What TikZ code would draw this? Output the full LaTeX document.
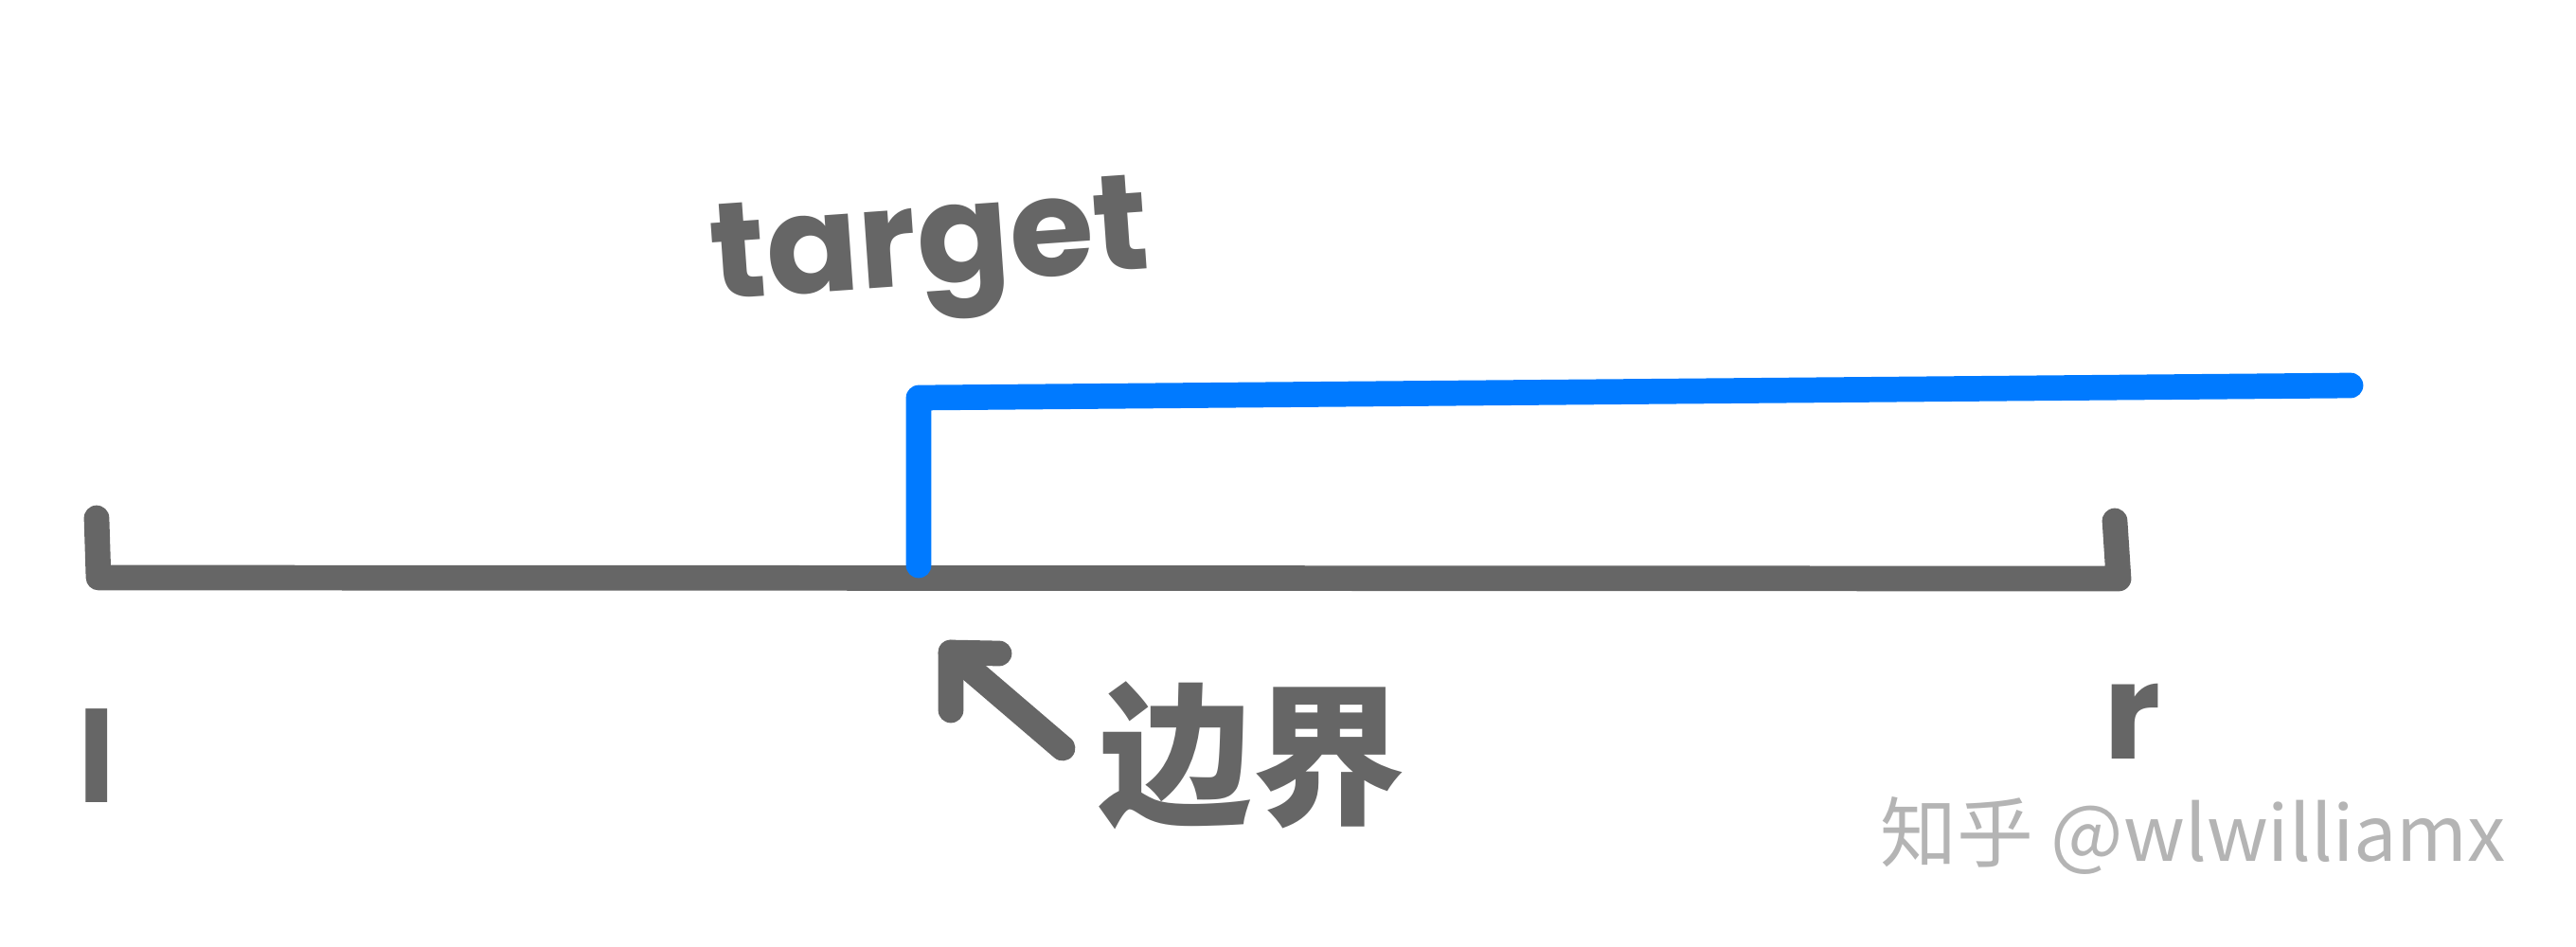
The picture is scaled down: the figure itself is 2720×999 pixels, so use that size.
\documentclass[tikz,border=0pt]{standalone}
\usepackage{fontspec}
\usepackage{tikz}
\usetikzlibrary{positioning}
\newfontfamily\handfont{Poppins}
\newfontfamily\cjkfont{Noto Sans CJK SC}
\definecolor{inkgray}{RGB}{102,102,102}
\definecolor{inkblue}{RGB}{0,122,255}
\definecolor{markgray}{RGB}{180,180,180}
\tikzset{
  pen/.style={line width=7.6pt,line cap=round,line join=round,draw=inkgray},
  bluepen/.style={pen,draw=inkblue},
  hand/.style={inner sep=0pt,text=inkgray,font=\handfont\bfseries},
}

\begin{document}
\begin{tikzpicture}[x=0.01cm,y=0.01cm,yscale=-1,xscale=1]
\useasboundingbox (0,0) rectangle (2720,999);

%Points of the range
\coordinate (lt) at (102,547);
\coordinate (lc) at (104,610);
\coordinate (rc) at (2237,611);
\coordinate (rt) at (2233,550);
%Points of the blue step
\coordinate (bb) at (970,597);
\coordinate (bc) at (970,420);
\coordinate (be) at (2482,407);
%Points of the arrow
\coordinate (atail) at (1122,790);
\coordinate (atip) at (1004,689);
\coordinate (ahl) at (1004,750);
\coordinate (ahr) at (1055,690);

%Straight Lines range
\draw [pen] (lt) -- (lc) -- (rc) -- (rt) ;
%Straight Lines blue step
\draw [bluepen] (bb) -- (bc) -- (be) ;
%Straight Lines arrow
\draw [pen] (atail) -- (atip) ;
\draw [pen] (ahl) -- (atip) -- (ahr) ;

% Text Node
\node [hand,rotate=4,anchor=base] (target) at (985,300) {\fontsize{41pt}{41pt}\selectfont target};
% Text Node
\node [hand] (l) at (102,798) {\fontsize{38pt}{38pt}\selectfont l};
% Text Node
\node [hand] (r) at (2252,762) {\fontsize{40pt}{40pt}\selectfont r};
% Text Node
\node [inner sep=0pt,text=inkgray,font=\cjkfont\bfseries] (bound) at (1322,798) {\fontsize{46pt}{46pt}\selectfont 边界};
% Text Node
\node [inner sep=0pt,text=markgray,font=\cjkfont,text height=15pt,text depth=4pt] (mark) at (2316,890) {\fontsize{23pt}{23pt}\selectfont 知乎 @wlwilliamx};

\end{tikzpicture}
\end{document}
